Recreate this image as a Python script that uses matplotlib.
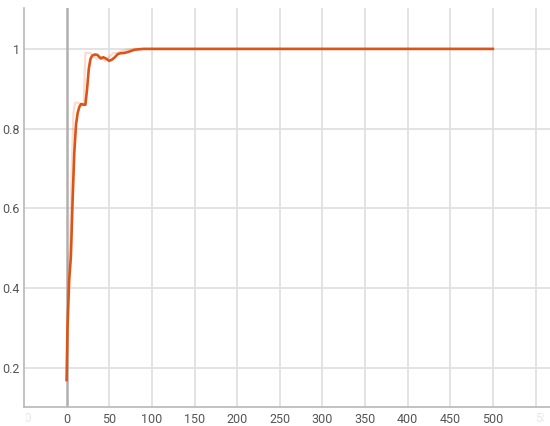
import numpy as np
import matplotlib
matplotlib.use("Agg")
import matplotlib.pyplot as plt
from matplotlib.transforms import Bbox, blended_transform_factory

plt.rcParams['font.family'] = ['Roboto', 'DejaVu Sans']

# raw (faded) values
raw_steps = [0, 2, 4, 6, 8, 10, 12, 14, 16, 18, 20, 22, 24, 26, 28, 30,
             35, 40, 45, 50, 55, 60, 65, 70, 80, 90, 100, 200, 300, 400, 500]
raw_vals = [0.17, 0.47, 0.50, 0.70, 0.84, 0.865, 0.865, 0.865, 0.86, 0.86,
            0.86, 0.99, 0.99, 0.99, 0.99, 0.985, 0.975, 0.98, 0.97, 0.98,
            0.99, 0.99, 0.995, 0.998, 1.0, 1.0, 1.0, 1.0, 1.0, 1.0, 1.0]

# smoothed values
smooth_steps = [0, 1, 3, 5, 7, 9, 11, 13, 15, 17, 20, 22, 24, 26, 28, 30,
                33, 36, 40, 43, 46, 50, 53, 56, 60, 63, 68, 73, 80, 90,
                100, 200, 300, 400, 500]
smooth_vals = [0.17, 0.30, 0.42, 0.48, 0.62, 0.74, 0.81, 0.84, 0.855, 0.862,
               0.86, 0.86, 0.90, 0.95, 0.975, 0.983, 0.986, 0.985, 0.976,
               0.979, 0.976, 0.97, 0.973, 0.978, 0.987, 0.989, 0.99, 0.993,
               0.998, 1.0, 1.0, 1.0, 1.0, 1.0, 1.0]

x_ticks = [0, 50, 100, 150, 200, 250, 300, 350, 400, 450, 500]
grid_x = [50, 100, 150, 200, 250, 300, 350, 400, 450, 500, 550]
y_ticks = [0.2, 0.4, 0.6, 0.8, 1.0]
y_labels = ['0.2', '0.4', '0.6', '0.8', '1']

orange = '#dc5518'

fig = plt.figure(figsize=(5.5, 4.26), dpi=100)
ax = fig.add_axes([24 / 550, 19 / 426, 526 / 550, 399 / 426])

ax.plot(raw_steps, raw_vals, color=orange, alpha=0.2, lw=1.6, zorder=3)
ax.plot(smooth_steps, smooth_vals, color=orange, lw=1.9, zorder=4)

ax.set_xlim(-50, 567)
ax.set_ylim(0.1025, 1.1025)

ax.set_xticks(x_ticks)
ax.set_yticks(y_ticks)
ax.set_yticklabels(y_labels)
ax.grid(True, axis='y', color='#e0e0e0', lw=1.3)
for gx in grid_x:
    ax.axvline(gx, color='#e0e0e0', lw=1.3, zorder=1)
ax.axvline(0, color='#b0b0b0', lw=1.8, zorder=2)

for s in ['top', 'right']:
    ax.spines[s].set_visible(False)
for s in ['left', 'bottom']:
    ax.spines[s].set_color('#b8b8b8')
    ax.spines[s].set_linewidth(1.2)

ax.tick_params(length=0, labelsize=9, labelcolor='#555555')
ax.tick_params(axis='x', pad=4)
ax.tick_params(axis='y', pad=3)

# faded edge labels, cut off at the plot edges
trans = blended_transform_factory(ax.transData, ax.transAxes)
t1 = ax.text(-50, -0.012, '-50', transform=trans, ha='center', va='top',
             fontsize=9, color='#e6e6e6', clip_on=False)
t1.set_clip_box(Bbox.from_extents(26, 0, 550, 426))
t1.set_clip_on(True)
t2 = ax.text(550, -0.012, '550', transform=trans, ha='left', va='top',
             fontsize=9, color='#e6e6e6', clip_on=False)
t2.set_clip_box(Bbox.from_extents(0, 0, 544, 426))
t2.set_clip_on(True)

fig.savefig('out.png', dpi=100)
